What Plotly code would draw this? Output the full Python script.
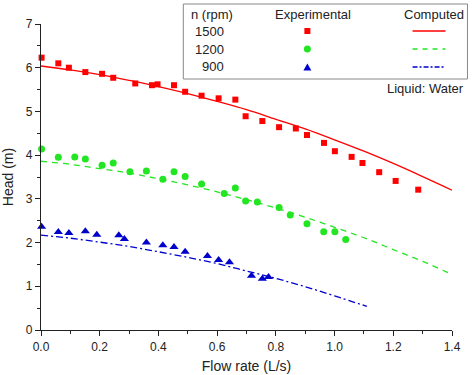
import plotly.graph_objects as go

# Experimental data
q1500 = [0.002, 0.059, 0.095, 0.151, 0.208, 0.246, 0.321, 0.378, 0.397, 0.453, 0.491, 0.547, 0.605, 0.662,
         0.697, 0.754, 0.811, 0.868, 0.906, 0.964, 1.001, 1.058, 1.095, 1.152, 1.208, 1.285]
h1500 = [6.23, 6.10, 6.00, 5.90, 5.86, 5.77, 5.64, 5.60, 5.62, 5.60, 5.45, 5.36, 5.30, 5.27,
         4.89, 4.78, 4.64, 4.61, 4.46, 4.28, 4.09, 3.96, 3.82, 3.61, 3.41, 3.21]

q1200 = [0.002, 0.059, 0.115, 0.151, 0.208, 0.246, 0.303, 0.359, 0.415, 0.453, 0.491, 0.547, 0.624, 0.662,
         0.697, 0.737, 0.811, 0.849, 0.906, 0.963, 1.001, 1.038]
h1200 = [4.14, 3.95, 3.96, 3.91, 3.77, 3.82, 3.62, 3.64, 3.45, 3.62, 3.51, 3.34, 3.12, 3.25,
         2.95, 2.93, 2.80, 2.63, 2.43, 2.25, 2.25, 2.07]

q900 = [0.002, 0.059, 0.095, 0.151, 0.190, 0.265, 0.284, 0.359, 0.415, 0.453, 0.491, 0.567, 0.605, 0.642,
        0.717, 0.754, 0.775]
h900 = [2.36, 2.24, 2.22, 2.26, 2.18, 2.17, 2.08, 2.00, 1.94, 1.90, 1.79, 1.69, 1.60, 1.55,
        1.24, 1.17, 1.21]

# Computed curves
qc = [0.0, 0.1, 0.2, 0.3, 0.4, 0.5, 0.6, 0.7, 0.8, 0.9, 1.0, 1.1, 1.2, 1.3, 1.4]
hc1500 = [6.04, 5.95, 5.84, 5.71, 5.57, 5.41, 5.23, 5.04, 4.82, 4.60, 4.35, 4.09, 3.81, 3.51, 3.20]
hc1200 = [3.86, 3.79, 3.69, 3.59, 3.46, 3.32, 3.16, 2.98, 2.79, 2.58, 2.35, 2.11, 1.84, 1.57, 1.27]
qc900 = [0.0, 0.1, 0.2, 0.3, 0.4, 0.5, 0.6, 0.7, 0.8, 0.9, 1.0, 1.11]
hc900 = [2.17, 2.10, 2.01, 1.91, 1.79, 1.66, 1.52, 1.35, 1.18, 0.99, 0.78, 0.54]

x_ticks = [0.0, 0.2, 0.4, 0.6, 0.8, 1.0, 1.2, 1.4]
y_ticks = [0, 1, 2, 3, 4, 5, 6, 7]

RED = "#ff0000"
GREEN = "#22e622"
BLUE = "#0000cc"
FONT = "Liberation Sans, Arial, sans-serif"
TXT = "#222222"

fig = go.Figure()
fig.add_trace(go.Scatter(x=qc, y=hc1500, mode="lines", line=dict(color=RED, width=1.3, shape="spline")))
fig.add_trace(go.Scatter(x=qc, y=hc1200, mode="lines", line=dict(color=GREEN, width=1.3, dash="6px,5px", shape="spline")))
fig.add_trace(go.Scatter(x=qc900, y=hc900, mode="lines", line=dict(color=BLUE, width=1.3, dash="7px,3px,2px,3px", shape="spline")))
fig.add_trace(go.Scatter(x=q1500, y=h1500, mode="markers", marker=dict(symbol="square", size=6, color=RED), cliponaxis=False))
fig.add_trace(go.Scatter(x=q1200, y=h1200, mode="markers", marker=dict(symbol="circle", size=7, color=GREEN), cliponaxis=False))
fig.add_trace(go.Scatter(x=q900, y=h900, mode="markers", marker=dict(symbol="triangle-up", size=8, color=BLUE), cliponaxis=False))

W, H = 474, 375
L_REF, R_REF, T_REF, B_REF = 41, 452.5, 24, 330
ml, mt = L_REF, T_REF
mr, mb = W - R_REF, H - B_REF
pw, ph = R_REF - L_REF, B_REF - T_REF

def px(x):
    return (x - L_REF) / pw

def py(y):
    return (B_REF - y) / ph

shapes = []
shapes.append(dict(type="rect", xref="paper", yref="paper", x0=px(183.5), x1=px(468), y0=py(79), y1=py(4),
                   line=dict(color="#888888", width=1), fillcolor="white", layer="above"))
mx = 307.7
shapes.append(dict(type="rect", xref="paper", yref="paper", x0=px(mx - 3), x1=px(mx + 3), y0=py(34), y1=py(28),
                   fillcolor=RED, line=dict(width=0), layer="above"))
shapes.append(dict(type="circle", xref="paper", yref="paper", x0=px(mx - 3.5), x1=px(mx + 3.5), y0=py(52.5), y1=py(45.5),
                   fillcolor=GREEN, line=dict(width=0), layer="above"))
tri = "M {} {} L {} {} L {} {} Z".format(px(mx - 4), py(70.5), px(mx + 4), py(70.5), px(mx), py(63.5))
shapes.append(dict(type="path", xref="paper", yref="paper", path=tri, fillcolor=BLUE, line=dict(width=0), layer="above"))
shapes.append(dict(type="line", xref="paper", yref="paper", x0=px(413), x1=px(446), y0=py(31), y1=py(31),
                   line=dict(color=RED, width=1.3), layer="above"))
shapes.append(dict(type="line", xref="paper", yref="paper", x0=px(413), x1=px(446), y0=py(49), y1=py(49),
                   line=dict(color=GREEN, width=1.3, dash="5px,5px"), layer="above"))
shapes.append(dict(type="line", xref="paper", yref="paper", x0=px(413), x1=px(446), y0=py(67), y1=py(67),
                   line=dict(color=BLUE, width=1.3, dash="5px,2px,2px,2px"), layer="above"))

ann = []
def t(x, y, s, xa="center", size=13):
    ann.append(dict(xref="paper", yref="paper", x=px(x), y=py(y), text=s, showarrow=False,
                    xanchor=xa, yanchor="middle", font=dict(size=size, color=TXT, family=FONT)))

t(189, 14.5, "n (rpm)", "left")
t(313, 14.5, "Experimental")
t(467, 14.5, "Computed", "right")
t(226, 31, "1500", "right")
t(226, 49, "1200", "right")
t(226, 67, "900", "right")
t(467, 88, "Liquid: Water", "right")

axis_common = dict(showline=True, linecolor="#222222", linewidth=1.2, ticks="outside", ticklen=5,
                   tickwidth=1.2, tickcolor="#222222", showgrid=False, zeroline=False, automargin=False,
                   tickfont=dict(size=12, color=TXT, family=FONT))

fig.update_layout(
    width=W, height=H,
    margin=dict(l=ml, r=mr, t=mt, b=mb, autoexpand=False),
    paper_bgcolor="white", plot_bgcolor="white",
    showlegend=False, hovermode=False,
    shapes=shapes, annotations=ann,
    xaxis=dict(range=[0, 1.4], tickvals=x_ticks, ticktext=["%.1f" % v for v in x_ticks],
               title=dict(text="Flow rate (L/s)", font=dict(size=14, color=TXT, family=FONT), standoff=8),
               minor=dict(ticks="outside", ticklen=3, dtick=0.1, tickwidth=1.2, tickcolor="#222222"),
               **axis_common),
    yaxis=dict(range=[0, 7], tickvals=y_ticks,
               title=dict(text="Head (m)", font=dict(size=14, color=TXT, family=FONT), standoff=10),
               minor=dict(ticks="outside", ticklen=3, dtick=0.5, tickwidth=1.2, tickcolor="#222222"),
               **axis_common),
)

# remove the browser's default 8px body margin so the figure sits at the page origin
fig.write_html("out.html", config={"displayModeBar": False},
               post_script="document.body.style.margin='0px';")
